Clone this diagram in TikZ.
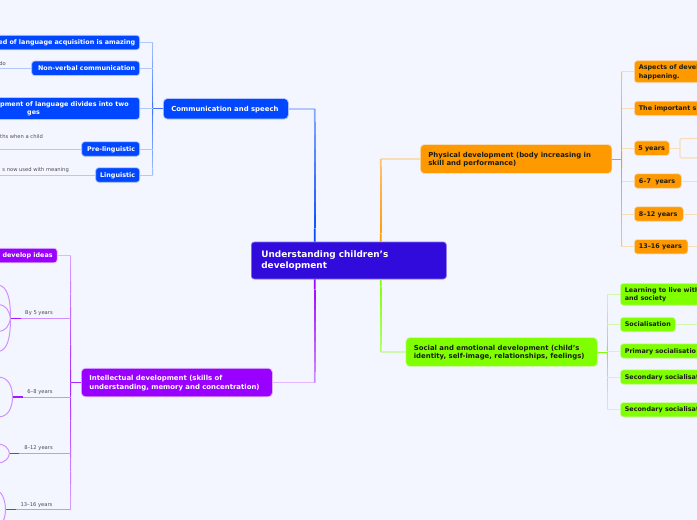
\documentclass[tikz,border=0pt]{standalone}
\usepackage{fontspec}
\setmainfont{DejaVu Sans}
\usetikzlibrary{calc}
\definecolor{pagebg}{HTML}{F4F6FF}
\definecolor{cmain}{HTML}{300BDC}
\definecolor{cblue}{HTML}{0047FF}
\definecolor{cbluep}{HTML}{B3C7FF}
\definecolor{cbluem}{HTML}{88ABFF}
\definecolor{cpurp}{HTML}{9900FF}
\definecolor{cpurpp}{HTML}{E0B8FF}
\definecolor{cpurpm}{HTML}{D090FF}
\definecolor{cora}{HTML}{FF9900}
\definecolor{corap}{HTML}{F8DDB8}
\definecolor{coram}{HTML}{FFC272}
\definecolor{cgrn}{HTML}{80FF00}
\definecolor{cgrnp}{HTML}{D2F8B0}
\definecolor{cgrnm}{HTML}{B0FF70}
\definecolor{ctxt}{HTML}{1C1C10}
\tikzset{
  x=1pt,y=-1pt,
  boxbase/.style={rectangle,rounded corners=3pt,line width=0.7pt,inner ysep=0pt,execute at begin node={\rule[-1.5pt]{0pt}{7.5pt}},font=\fontsize{6.4}{8.2}\selectfont\bfseries},
  bigbox/.style={boxbase,rounded corners=4pt,execute at begin node={\rule[-1.5pt]{0pt}{8pt}},font=\fontsize{6.9}{8.8}\selectfont\bfseries,inner xsep=8pt},
  smallbox/.style={boxbase,inner xsep=4.5pt},
  bluebox/.style={fill=cblue,draw=cbluep,text=white},
  purpbox/.style={fill=cpurp,draw=cpurpp,text=white},
  orabox/.style={fill=cora,draw=corap,text=ctxt},
  grnbox/.style={fill=cgrn,draw=cgrnp,text=ctxt},
  mainbox/.style={rectangle,rounded corners=3pt,fill=cmain,draw=cmain!60!white,line width=0.7pt,text=white,inner xsep=10pt,inner ysep=0pt,execute at begin node={\rule[-2pt]{0pt}{9pt}},font=\fontsize{8.9}{11}\selectfont\bfseries},
  lab/.style={inner sep=0pt,text=black!70,font=\fontsize{5.2}{6}\selectfont},
  pale/.style={line width=1pt},
  trunk/.style={line width=1.7pt}
}
\newcommand\gradseg[5]{%
  \foreach \i in {0,...,9}{%
    \pgfmathtruncatemacro\pct{(\i+0.5)*10}%
    \pgfmathsetmacro\ta{\i/10}%
    \pgfmathsetmacro\tb{(\i+1)/10}%
    \draw[line width=#5,color=#4!\pct!#3] ($(#1)!\ta!(#2)$) -- ($(#1)!\tb!(#2)$);%
  }%
}
\begin{document}
\begin{tikzpicture}
\useasboundingbox (0,0) rectangle (697,520);
\fill[pagebg] (0,0) rectangle (697,520);
\begin{scope}
\clip (0,0) rectangle (697,520);
% centre
\node[mainbox,anchor=west,text width=175pt,align=flush left,minimum height=37pt] (central) at (251,260.5) {Understanding children’s\\development};
% main branches
\node[bigbox,bluebox,anchor=west,text width=109pt,align=flush left,minimum height=20.5pt] (comm) at (163,108.8) {Communication and speech};
\node[bigbox,purpbox,anchor=west,text width=175pt,align=flush left,minimum height=28.5pt] (intel) at (81,382.5) {Intellectual development (skills of\\understanding, memory and concentration)};
\node[bigbox,orabox,anchor=west,text width=175.5pt,align=flush left,minimum height=29pt] (phys) at (420,159) {Physical development (body increasing in\\skill and performance)};
\node[bigbox,grnbox,anchor=west,text width=175.5pt,align=flush left,minimum height=29pt] (soc) at (405.5,352) {Social and emotional development (child’s\\identity, self-image, relationships, feelings)};
% blue children
\node[smallbox,bluebox,anchor=east,text width=170pt,align=flush right,minimum height=14.5pt] (b1) at (140,42.5) {ed of language acquisition is amazing};
\node[smallbox,bluebox,anchor=east,text width=99pt,align=flush right,minimum height=14.5pt] (b2) at (140,68.3) {Non-verbal communication};
\node[smallbox,bluebox,anchor=east,text width=170pt,align=flush right,minimum height=22pt] (b3) at (140,108.4) {pment of language divides into two\rule{6.5pt}{0pt}\\ges\rule{95.2pt}{0pt}};
\node[smallbox,bluebox,anchor=east,text width=49pt,align=flush right,minimum height=14.5pt] (b4) at (140,149) {Pre-linguistic};
\node[smallbox,bluebox,anchor=east,text width=35pt,align=flush right,minimum height=14.5pt] (b5) at (140,175) {Linguistic};
\node[lab,anchor=east] (bl2) at (6,63.5) {do};
\node[lab,anchor=east] (bl4) at (43,137) {ths when a child};
\node[lab,anchor=east] (bl5) at (69,170.5) {s now used with meaning};
\coordinate (bf2) at (-2,68.3);
\coordinate (bf4) at (-2,149);
\coordinate (bf5) at (-2,175);
% purple children
\node[smallbox,purpbox,anchor=east,text width=100pt,align=flush right,minimum height=14.5pt] (p1) at (57.5,255.5) {l develop ideas};
\node[lab] (pl1) at (39,313) {By 5 years};
\node[lab] (pl2) at (40,392) {6–8 years};
\node[lab] (pl3) at (38.5,448.2) {8–12 years};
\node[lab] (pl4) at (36.5,505) {13–16 years};
% orange children
\node[smallbox,orabox,anchor=west,text width=120pt,align=flush left,minimum height=22pt] (o1) at (634,71.7) {Aspects of devel\\happening.};
\node[smallbox,orabox,anchor=west,text width=120pt,align=flush left,minimum height=14.5pt] (o2) at (634,108.4) {The important s};
\node[smallbox,orabox,anchor=west,inner xsep=4pt,text width=27pt,align=flush left,minimum height=14.5pt] (o3) at (634,148.2) {5 years};
\node[smallbox,orabox,anchor=west,text width=38pt,align=flush left,minimum height=14.5pt] (o4) at (634,181) {6–7\ \ years};
\node[smallbox,orabox,anchor=west,text width=40pt,align=flush left,minimum height=14.5pt] (o5) at (634,214) {8–12 years};
\node[smallbox,orabox,anchor=west,text width=44.5pt,align=flush left,minimum height=14.5pt] (o6) at (634,246.7) {13–16 years};
% green children
\node[smallbox,grnbox,anchor=west,text width=120pt,align=flush left,minimum height=22pt] (g1) at (620,294.3) {Learning to live with\\and society};
\node[smallbox,grnbox,anchor=west,text width=46pt,align=flush left,minimum height=14.5pt] (g2) at (620,324.5) {Socialisation};
\node[smallbox,grnbox,anchor=west,text width=120pt,align=flush left,minimum height=14.5pt] (g3) at (620,351) {Primary socialisatio};
\node[smallbox,grnbox,anchor=west,text width=120pt,align=flush left,minimum height=14.5pt] (g4) at (620,377) {Secondary socialisat};
\node[smallbox,grnbox,anchor=west,text width=120pt,align=flush left,minimum height=14.5pt] (g5) at (620,409.7) {Secondary socialisat};
% routing points
\coordinate (cB) at (314.7,108.8);
\coordinate (cBe) at (cB |- central.north);
\coordinate (cP) at (314.7,382.5);
\coordinate (cPe) at (cP |- central.south);
\coordinate (cO) at (380.8,159);
\coordinate (cOe) at (cO |- central.north);
\coordinate (cG) at (380.8,352);
\coordinate (cGe) at (cG |- central.south);
% central connectors
\draw[trunk,cbluep] (comm.east) -- (cB);
\gradseg{cB}{cBe}{cbluem}{cblue}{1.7pt}
\draw[trunk,cpurpp] (intel.east) -- (cP);
\gradseg{cP}{cPe}{cpurpm}{cpurp}{1.7pt}
\draw[trunk,corap] (phys.west) -- (cO);
\gradseg{cO}{cOe}{coram}{cora}{1.7pt}
\draw[trunk,cgrnp] (soc.west) -- (cG);
\gradseg{cG}{cGe}{cgrnm}{cgrn}{1.7pt}
% blue bus
\coordinate (bb) at (152.7,108.8);
\foreach \n in {1,...,5}{\coordinate (bb\n) at (bb |- b\n.east);}
\draw[pale,cblue!75!white] (comm.west) -- (bb);
\gradseg{bb}{bb1}{cblue!75!white}{cbluem}{1pt}
\gradseg{bb}{bb5}{cblue!75!white}{cbluem}{1pt}
\foreach \n in {1,...,5}{\draw[pale,cbluep] (b\n.east) -- (bb\n);}
\draw[pale,cbluep] (b2.west) -- (bf2);
\draw[pale,cbluep] (b4.west) -- (bf4);
\draw[pale,cbluep] (b5.west) -- (bf5);
% purple bus
\coordinate (pb) at (70.5,382.5);
\coordinate (pb0) at (70.5,255.5);
\coordinate (pb1) at (70.5,318.3);
\coordinate (pb2) at (70.5,397);
\coordinate (pb3) at (70.5,453.3);
\coordinate (pb4) at (70.5,509.5);
\draw[pale,cpurp!85!white] (intel.west) -- (pb);
\gradseg{pb}{pb0}{cpurp!85!white}{cpurpm}{1pt}
\gradseg{pb}{pb4}{cpurp!85!white}{cpurpm}{1pt}
\draw[pale,cpurpp] (p1.east) -- (pb0);
% purple sub-branches
\coordinate (ps1) at (10.5,318.3);
\coordinate (ps2) at (12.5,397);
\coordinate (ps3) at (9.5,453.3);
\coordinate (ps4) at (5.5,509.5);
\coordinate (pd1) at (20.5,318.3);
\coordinate (pd2) at (23,397);
\coordinate (pd3) at (19,453.3);
\coordinate (pd4) at (16,509.5);
\foreach \n in {1,2,3,4}{
  \draw[pale,cpurpm] (pb\n) -- (ps\n);
  \draw[line width=1.1pt,cpurp!90!white] (ps\n) -- (pd\n);
}
\draw[pale,cpurpm] (ps1) .. controls (10.5,300) and (8,286) .. (-2,285);
\draw[pale,cpurpm] (ps1) .. controls (9,310) and (6,305) .. (-2,304.5);
\draw[pale,cpurpm] (ps1) .. controls (9,326) and (6,331) .. (-2,331.5);
\draw[pale,cpurpm] (ps1) .. controls (10.5,336) and (8,351) .. (-2,351.5);
\draw[pale,cpurpm] (ps2) .. controls (12.5,386) and (8,377) .. (-2,377);
\draw[pale,cpurpm] (ps2) .. controls (12.5,408) and (8,417) .. (-2,417);
\draw[pale,cpurpm] (ps3) .. controls (9,449) and (5,444) .. (-2,444);
\draw[pale,cpurpm] (ps3) .. controls (9,458) and (5,463) .. (-2,463);
\draw[pale,cpurpm] (ps4) .. controls (5.5,501) and (2,492) .. (-2,491);
\draw[pale,cpurpm] (ps4) .. controls (5.5,518) and (2,526) .. (-2,528);
% orange bus
\coordinate (ob) at (621.7,159);
\foreach \n in {1,...,6}{\coordinate (ob\n) at (ob |- o\n.west);}
\draw[pale,cora] (phys.east) -- (ob);
\gradseg{ob}{ob1}{cora}{coram}{1pt}
\gradseg{ob}{ob6}{cora}{coram}{1pt}
\foreach \n in {1,...,6}{\draw[pale,corap] (o\n.west) -- (ob\n);}
\coordinate (ob3r) at (680,148.2);
\coordinate (of3a) at (699,138.5);
\coordinate (of3b) at (699,158);
\draw[pale,corap] (o3.east) -- (ob3r);
\draw[line width=1.3pt,corap,rounded corners=1.5pt] (of3a) -- (ob3r |- of3a) -- (ob3r |- of3b) -- (of3b);
\coordinate (of4) at (699,181);
\coordinate (of5) at (699,214);
\coordinate (of6) at (699,246.7);
\foreach \n in {4,5,6}{\draw[pale,corap] (o\n.east) -- (of\n);}
% green bus
\coordinate (gb) at (607.3,352);
\foreach \n in {1,...,5}{\coordinate (gb\n) at (gb |- g\n.west);}
\draw[pale,cgrn] (soc.east) -- (gb);
\gradseg{gb}{gb1}{cgrn}{cgrnp}{1pt}
\gradseg{gb}{gb5}{cgrn}{cgrnp}{1pt}
\foreach \n in {1,...,5}{\draw[pale,cgrnp] (g\n.west) -- (gb\n);}
\coordinate (gf2) at (699,324.5);
\draw[pale,cgrnp] (g2.east) -- (gf2);
\end{scope}
\end{tikzpicture}
\end{document}
